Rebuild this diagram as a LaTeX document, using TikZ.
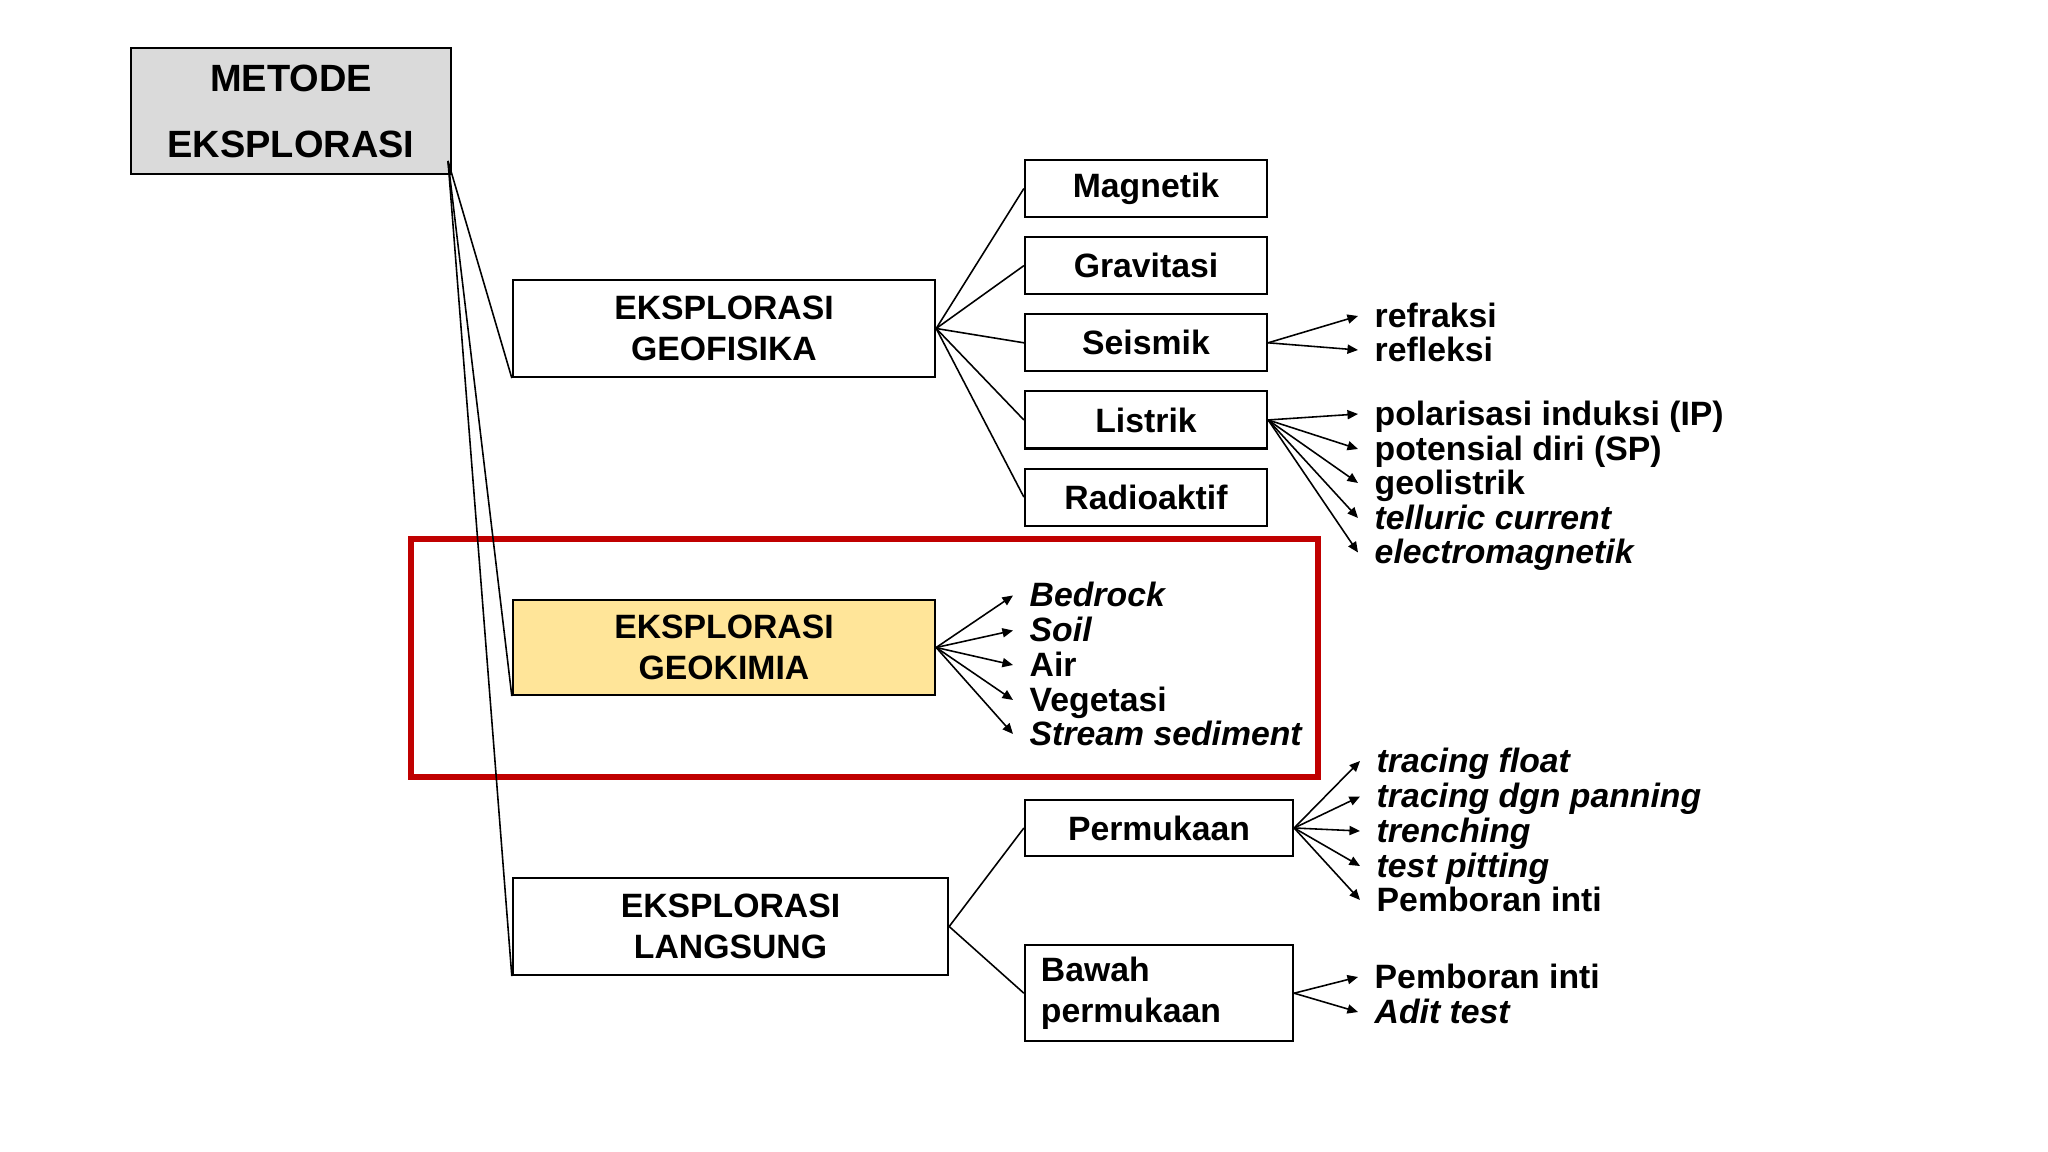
\documentclass[tikz,border=0pt]{standalone}
\usepackage{fontspec}
\setmainfont{Liberation Sans}
\usepackage{tikz}
\usetikzlibrary{positioning}
\usetikzlibrary{arrows.meta}
\definecolor{abu}{RGB}{218,218,218}
\definecolor{kuning}{RGB}{255,229,153}
\definecolor{merah}{RGB}{192,0,0}

\begin{document}
\begin{tikzpicture}[
x=0.01cm, y=-0.01cm,
every node/.style={font=\fontsize{9.6}{11.7}\selectfont\bfseries},
kotak/.style={draw=black, line width=0.6pt, inner sep=0, align=center},
subkotak/.style={kotak, minimum width=2.42cm, minimum height=0.57cm},
lbl/.style={anchor=west, inner xsep=0.16cm, inner ysep=0, text height=0.24cm, text depth=0.02cm},
lbli/.style={lbl, font=\fontsize{9.6}{11.7}\selectfont\bfseries\itshape},
garis/.style={line width=0.45pt},
panah/.style={line width=0.45pt, -{Triangle[length=3pt,width=2.6pt]}}
]
\useasboundingbox (0,0) rectangle (2048,1152);

\node[kotak, fill=abu, minimum width=3.2cm, minimum height=1.26cm, font=\fontsize{10.8}{18.8}\selectfont\bfseries] (metode) at (291,111) {METODE\\EKSPLORASI};
\node[kotak, minimum width=4.22cm, minimum height=0.97cm] (geofisika) at (724,328.5) {EKSPLORASI\\GEOFISIKA};
\node[kotak, fill=kuning, minimum width=4.22cm, minimum height=0.95cm] (geokimia) at (724,647.5) {EKSPLORASI\\GEOKIMIA};
\node[kotak, minimum width=4.35cm, minimum height=0.97cm] (langsung) at (730.5,926.5) {EKSPLORASI\\LANGSUNG};

% geofisika
\node[subkotak] (magnetik) at (1146,188.5) {Magnetik};
\node[subkotak, below=0.18cm of magnetik] (gravitasi) {Gravitasi};
\node[subkotak, below=0.18cm of gravitasi] (seismik) {Seismik};
\node[subkotak, below=0.18cm of seismik] (listrik) {Listrik};
\node[subkotak, below=0.18cm of listrik] (radioaktif) {Radioaktif};

\node[lbl] (refraksi) at (1358,316) {refraksi};
\node[lbl] (refleksi) at (1358,350) {refleksi};
\node[lbl] (ip) at (1358,414) {polarisasi induksi (IP)};
\node[lbl] (sp) at (1358,449) {potensial diri (SP)};
\node[lbl] (geolistrik) at (1358,483) {geolistrik};
\node[lbli] (telluric) at (1358,518) {telluric current};
\node[lbli] (em) at (1358,552.5) {electromagnetik};

% geokimia
\node[lbli] (bedrock) at (1013,595.5) {Bedrock};
\node[lbli] (soil) at (1013,630.5) {Soil};
\node[lbl] (air) at (1013,665) {Air};
\node[lbl] (vegetasi) at (1013,700) {Vegetasi};
\node[lbli] (stream) at (1013,734) {Stream sediment};

% langsung
\node[kotak, minimum width=2.68cm, minimum height=0.56cm] (permukaan) at (1159,828) {Permukaan};
\node[kotak, text width=2.36cm, inner xsep=0.16cm, align=left, minimum height=0.96cm, below=0.87cm of permukaan] (bawah) {Bawah\\permukaan};

\node[lbli] (float) at (1360,761) {tracing float};
\node[lbli] (panning) at (1360,796.5) {tracing dgn panning};
\node[lbli] (trenching) at (1360,831) {trenching};
\node[lbli] (pitting) at (1360,866) {test pitting};
\node[lbl] (inti) at (1360,900) {Pemboran inti};
\node[lbl] (inti2) at (1358,977) {Pemboran inti};
\node[lbli] (adit) at (1358,1012) {Adit test};

\draw[merah, line width=1.7pt] (411,539) rectangle (1318,777);

\coordinate (mroot) at (448,161);
\draw[garis] (mroot) -- (geofisika.south west);
\draw[garis] (mroot) -- (geokimia.south west);
\draw[garis] (mroot) -- (langsung.south west);

\draw[garis] (geofisika.east) -- (magnetik.west);
\draw[garis] (geofisika.east) -- (gravitasi.west);
\draw[garis] (geofisika.east) -- (seismik.west);
\draw[garis] (geofisika.east) -- (listrik.west);
\draw[garis] (geofisika.east) -- (radioaktif.west);
\draw[garis] (langsung.east) -- (permukaan.west);
\draw[garis] (langsung.east) -- (bawah.west);

\draw[panah] (seismik.east) -- (refraksi.west);
\draw[panah] (seismik.east) -- (refleksi.west);
\draw[panah] (listrik.east) -- (ip.west);
\draw[panah] (listrik.east) -- (sp.west);
\draw[panah] (listrik.east) -- (geolistrik.west);
\draw[panah] (listrik.east) -- (telluric.west);
\draw[panah] (listrik.east) -- (em.west);

\draw[panah] (geokimia.east) -- (bedrock.west);
\draw[panah] (geokimia.east) -- (soil.west);
\draw[panah] (geokimia.east) -- (air.west);
\draw[panah] (geokimia.east) -- (vegetasi.west);
\draw[panah] (geokimia.east) -- (stream.west);

\draw[panah] (permukaan.east) -- (float.west);
\draw[panah] (permukaan.east) -- (panning.west);
\draw[panah] (permukaan.east) -- (trenching.west);
\draw[panah] (permukaan.east) -- (pitting.west);
\draw[panah] (permukaan.east) -- (inti.west);
\draw[panah] (bawah.east) -- (inti2.west);
\draw[panah] (bawah.east) -- (adit.west);
\end{tikzpicture}
\end{document}
